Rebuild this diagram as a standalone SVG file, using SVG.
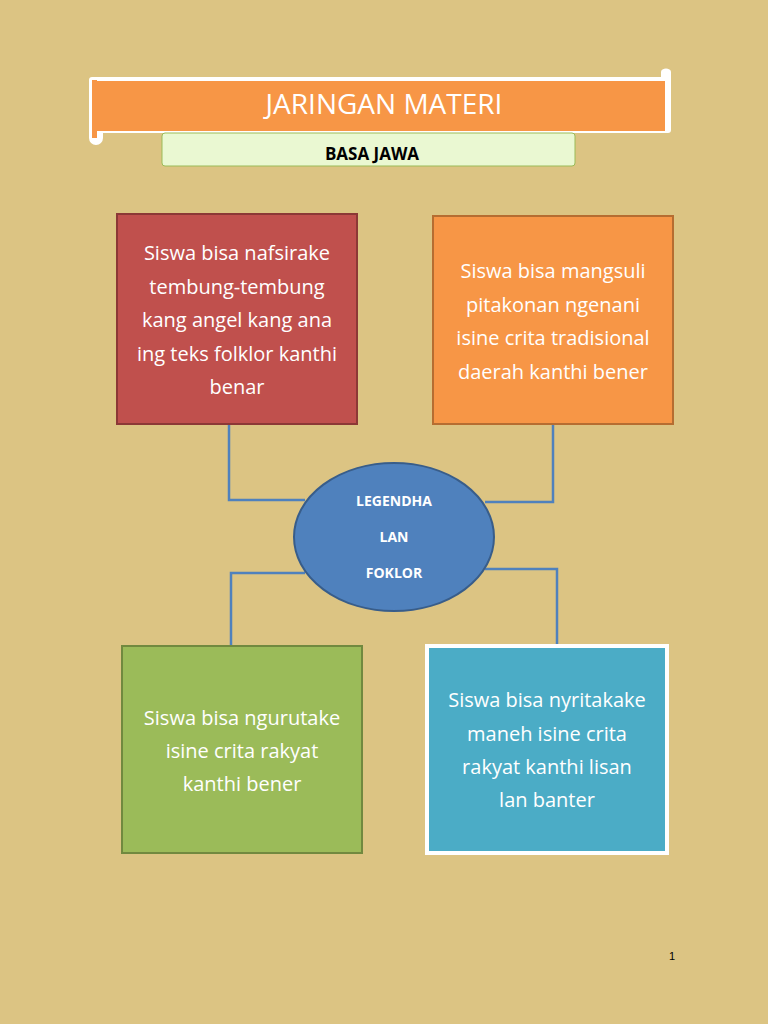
<svg xmlns="http://www.w3.org/2000/svg" width="768" height="1024" viewBox="0 0 768 1024">
<style>
.t{font-family:"Open Sans","Noto Sans",sans-serif;fill:#fff;font-size:20px;text-anchor:middle}
.c{fill:none;stroke:#4f81bd;stroke-width:2.5}
</style>
<rect width="768" height="1024" fill="#dcc483"/>
<g id="title">
<path d="M92,80 H664 V72 a4,4 0 0 1 4,0 V130 H100 V138 a4,4 0 0 1 -8,0 Z" fill="#fff" stroke="#fff" stroke-width="6" stroke-linejoin="round"/>
<rect x="97" y="81" width="568" height="50" fill="#f79646"/>
<rect x="92" y="80" width="5" height="58" fill="#f79646"/>
<text x="384" y="114" class="t" style="font-size:28px">JARINGAN MATERI</text>
</g>
<g id="subtitle">
<rect x="162" y="133" width="413" height="33" rx="3" fill="#eaf8d2" stroke="#9bbb59"/>
<text x="372" y="160" style="font-family:'Open Sans',sans-serif;font-weight:bold;font-size:17px;text-anchor:middle">BASA JAWA</text>
</g>
<g id="connectors">
<path class="c" d="M229,425 V500 H305"/>
<path class="c" d="M553,425 V502 H485"/>
<path class="c" d="M305,573 H231 V652"/>
<path class="c" d="M485,569 H557 V648"/>
</g>
<g id="n1">
<rect x="117" y="214" width="240" height="210" fill="#c0504d" stroke="#8c3836" stroke-width="2"/>
<text class="t"><tspan x="237" y="260">Siswa bisa nafsirake</tspan><tspan x="237" y="294">tembung-tembung</tspan><tspan x="237" y="327">kang angel kang ana</tspan><tspan x="237" y="361">ing teks folklor kanthi</tspan><tspan x="237" y="394">benar</tspan></text>
</g>
<g id="n2">
<rect x="433" y="216" width="240" height="208" fill="#f79646" stroke="#b66d31" stroke-width="2"/>
<text class="t"><tspan x="553" y="278">Siswa bisa mangsuli</tspan><tspan x="553" y="312">pitakonan ngenani</tspan><tspan x="553" y="345">isine crita tradisional</tspan><tspan x="553" y="379">daerah kanthi bener</tspan></text>
</g>
<g id="center">
<ellipse cx="394" cy="537" rx="100" ry="74" fill="#4f81bd" stroke="#385d8a" stroke-width="2"/>
<text class="t" style="font-size:14px;font-weight:bold"><tspan x="394" y="506">LEGENDHA</tspan><tspan x="394" y="542">LAN</tspan><tspan x="394" y="578">FOKLOR</tspan></text>
</g>
<g id="n3">
<rect x="122" y="646" width="240" height="207" fill="#9bbb59" stroke="#71893f" stroke-width="2"/>
<text class="t"><tspan x="242" y="725">Siswa bisa ngurutake</tspan><tspan x="242" y="758">isine crita rakyat</tspan><tspan x="242" y="791">kanthi bener</tspan></text>
</g>
<g id="n4">
<rect x="427" y="646" width="240" height="207" fill="#4bacc6" stroke="#fff" stroke-width="4"/>
<text class="t"><tspan x="547" y="707">Siswa bisa nyritakake</tspan><tspan x="547" y="741">maneh isine crita</tspan><tspan x="547" y="774">rakyat kanthi lisan</tspan><tspan x="547" y="807">lan banter</tspan></text>
</g>
<text x="672" y="960" style="font-family:'Liberation Sans',sans-serif;font-size:11px;text-anchor:middle">1</text>
</svg>
